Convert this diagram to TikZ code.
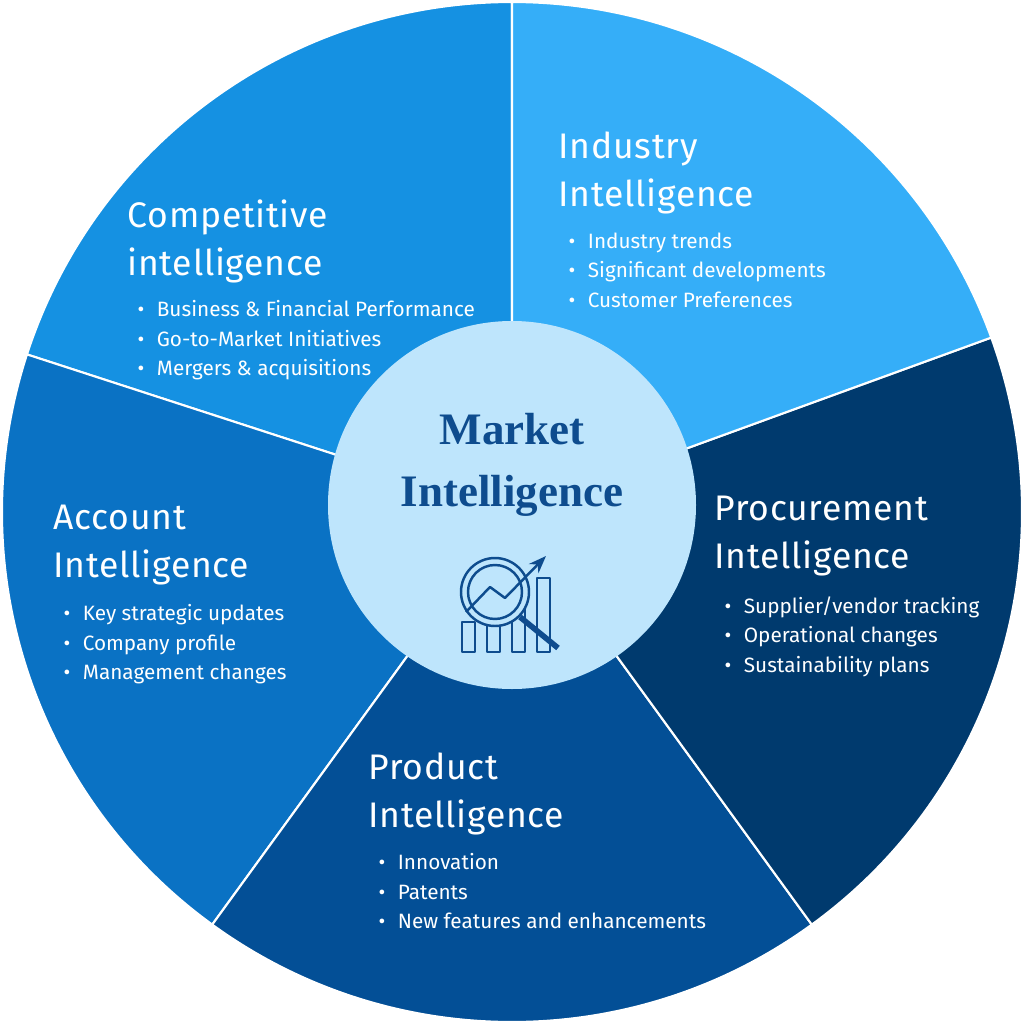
\documentclass[tikz,border=0pt]{standalone}
\usepackage{fontspec}
\setmainfont{Fira Sans}
\newfontfamily\titlefont{Liberation Serif}
\usetikzlibrary{arrows.meta}
\definecolor{compblue}{HTML}{1591E2}
\definecolor{indblue}{HTML}{35AEF8}
\definecolor{procblue}{HTML}{003A6E}
\definecolor{prodblue}{HTML}{034F96}
\definecolor{accblue}{HTML}{0A72C4}
\definecolor{hubblue}{HTML}{BEE5FC}
\definecolor{inkblue}{HTML}{0E4C8E}
\tikzset{
  heading/.style={anchor=north west,inner sep=0pt,align=left,text=white,font=\fontsize{10.1}{13.6}\selectfont\addfontfeature{LetterSpace=2}},
  points/.style={anchor=north west,inner sep=0pt,align=left,text=white,font=\fontsize{5.9}{8.4}\selectfont},
  iconline/.style={draw=inkblue,line width=0.7pt,line join=round}
}
\newcommand{\bul}{\textbullet\hspace{0.6em}}
\begin{document}
\begin{tikzpicture}[x=0.01cm,y=-0.01cm]
  \useasboundingbox (0,0) rectangle (1024,1024);
  \coordinate (hub) at (512,512);
  %sectors:
  \foreach \a/\b/\c in {90/162/compblue,162/234/accblue,234/306/prodblue,306/380/procblue,20/90/indblue}
    \fill[\c,draw=white,line width=0.6pt] (hub) -- ++(-\a:510) arc[start angle=-\a,end angle=-\b,radius=510] -- cycle;
  %hub circle:
  \fill[hubblue] (512,505) circle (184);
  \node[text=inkblue,font=\titlefont\bfseries\fontsize{12.8}{17.6}\selectfont,align=center] (title) at (512,465) {Market\\Intelligence};
  %icon:
  \foreach \x/\t in {462/622,487/600,512/578,537/578}
    \draw[iconline] (\x,652) rectangle ++(13,\t-652);
  \fill[hubblue] (495,592) circle (34);
  \draw[iconline] (495,592) circle (34) (495,592) circle (27);
  \draw[iconline,line width=1.6pt] (520,617) -- (558,648);
  \draw[iconline,-{Stealth[length=5pt]}] (466,612) -- (490,587) -- (505,598) -- (546,556);
  %labels:
  \node[heading] (comp) at (127,199) {Competitive\\intelligence};
  \node[points] (compl) at (137,300) {\bul Business \& Financial Performance\\\bul Go-to-Market Initiatives\\\bul Mergers \& acquisitions};
  \node[heading] (ind) at (558,131) {Industry\\Intelligence};
  \node[points] (indl) at (568,232) {\bul Industry trends\\\bul Significant developments\\\bul Customer Preferences};
  \node[heading] (proc) at (714,495) {Procurement\\Intelligence};
  \node[points] (procl) at (724,596) {\bul Supplier/vendor tracking\\\bul Operational changes\\\bul Sustainability plans};
  \node[heading] (prod) at (368,752) {Product\\Intelligence};
  \node[points] (prodl) at (378,853) {\bul Innovation\\\bul Patents\\\bul New features and enhancements};
  \node[heading] (acc) at (53,504) {Account\\Intelligence};
  \node[points] (accl) at (63,604) {\bul Key strategic updates\\\bul Company profile\\\bul Management changes};
\end{tikzpicture}
\end{document}
